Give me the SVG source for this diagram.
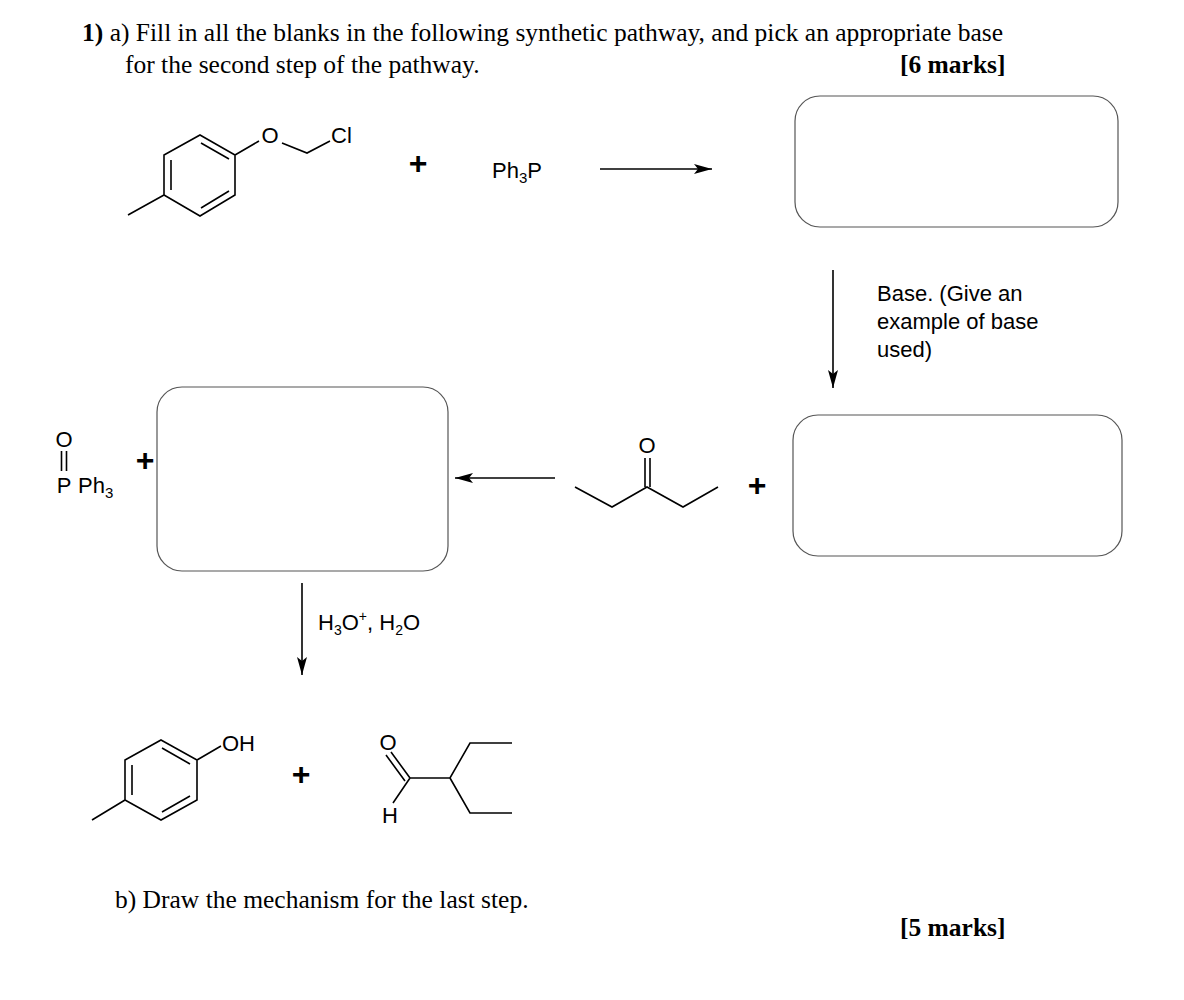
<svg xmlns="http://www.w3.org/2000/svg" width="1184" height="1000" viewBox="0 0 1184 1000">
<style>
.b{stroke:#000;stroke-width:1.6;fill:none}
.bx{stroke:#555;stroke-width:1.2;fill:none}
.s{font-family:"Liberation Serif",serif;font-size:25.5px}
.a{font-family:"Liberation Sans",sans-serif;font-size:22px}
.p{font-family:"Liberation Sans",sans-serif;font-size:32px;font-weight:bold}
</style>
<defs><marker id="ah" viewBox="0 0 18 10" refX="18" refY="5" markerWidth="18" markerHeight="10" markerUnits="userSpaceOnUse" orient="auto"><path d="M0,0L18,5L0,10L4,5z" fill="#000"/></marker></defs>
<rect width="1184" height="1000" fill="#fff"/>
<g id="title">
<text class="s" x="82" y="41" font-size="26.2"><tspan font-weight="bold">1)</tspan>  a) Fill in all the blanks in the following synthetic pathway, and pick an appropriate base</text>
<text class="s" x="125" y="73">for the second step of the pathway.</text>
<text class="s" x="900" y="73" font-weight="bold">[6 marks]</text>
</g>
<g id="sm1">
<path class="b" d="M200,135L235,155L235,195L200,216L164,195L164,155Z M128,215L164,195 M235,155L259,141 M282,143L307,153L330,141 M201,143L229,159 M201,208L229,191 M171,160L171,190"/>
<text class="a" x="270" y="143" text-anchor="middle">O</text>
<text class="a" x="331" y="143">Cl</text>
</g>
<text class="p" x="418" y="174" text-anchor="middle">+</text>
<text class="a" x="492" y="178">Ph<tspan font-size="15" dy="5">3</tspan><tspan dy="-5">P</tspan></text>
<g id="box1"><rect class="bx" x="795" y="96" width="323" height="131" rx="25"/></g>
<g id="box2"><rect class="bx" x="157" y="387" width="291" height="184" rx="25"/></g>
<g id="box3"><rect class="bx" x="793" y="415" width="329" height="141" rx="25"/></g>
<g id="base"><text class="a" x="877" y="301" font-size="24.5">Base. (Give an</text><text class="a" x="877" y="329" font-size="24.5">example of base</text><text class="a" x="877" y="357" font-size="24.5">used)</text></g>
<g id="ketone">
<path class="b" d="M575,487L612,507L647,487L683,507L718,487 M645,458L645,487 M650,458L650,487"/>
<text class="a" x="647" y="453" text-anchor="middle">O</text>
</g>
<text class="p" x="757" y="496" text-anchor="middle">+</text>
<g id="tppo">
<text class="a" x="64" y="447" text-anchor="middle">O</text>
<path class="b" d="M61.5,451L61.5,471 M66.5,451L66.5,471"/>
<text class="a" x="64" y="493" text-anchor="middle">P</text>
<text class="a" x="78" y="493">Ph<tspan font-size="15" dy="5">3</tspan></text>
</g>
<text class="p" x="145" y="471" text-anchor="middle">+</text>
<g id="reagent"><text class="a" x="318" y="630">H<tspan font-size="14" dy="5">3</tspan><tspan dy="-5">O</tspan><tspan font-size="14" dy="-9">+</tspan><tspan dy="9">, H</tspan><tspan font-size="14" dy="5">2</tspan><tspan dy="-5">O</tspan></text></g>
<g id="phenol">
<path class="b" d="M161,740L197,760L197,800L161,820L125,800L125,760Z M92,820L125,800 M197,760L221,746 M162,748L190,764 M162,812L190,796 M132,765L132,795"/>
<text class="a" x="222" y="751">OH</text>
</g>
<text class="p" x="301" y="785" text-anchor="middle">+</text>
<g id="aldehyde">
<path class="b" d="M410,778L450,778L470,743L512,743 M450,778L470,813L512,813 M410,778L391,752 M405,781L386,755 M410,778L393,803"/>
<text class="a" x="388" y="750" text-anchor="middle">O</text>
<text class="a" x="390" y="823" text-anchor="middle">H</text>
</g>
<g id="connectors">
<line class="b" x1="600" y1="169" x2="712" y2="169" marker-end="url(#ah)"/>
<line class="b" x1="833" y1="270" x2="833" y2="388" marker-end="url(#ah)"/>
<line class="b" x1="555" y1="478" x2="455" y2="478" marker-end="url(#ah)"/>
<line class="b" x1="302" y1="583" x2="302" y2="675" marker-end="url(#ah)"/>
</g>
<g id="partb">
<text class="s" x="115" y="908" font-size="24">b) Draw the mechanism for the last step.</text>
<text class="s" x="900" y="936" font-weight="bold">[5 marks]</text>
</g>
</svg>
